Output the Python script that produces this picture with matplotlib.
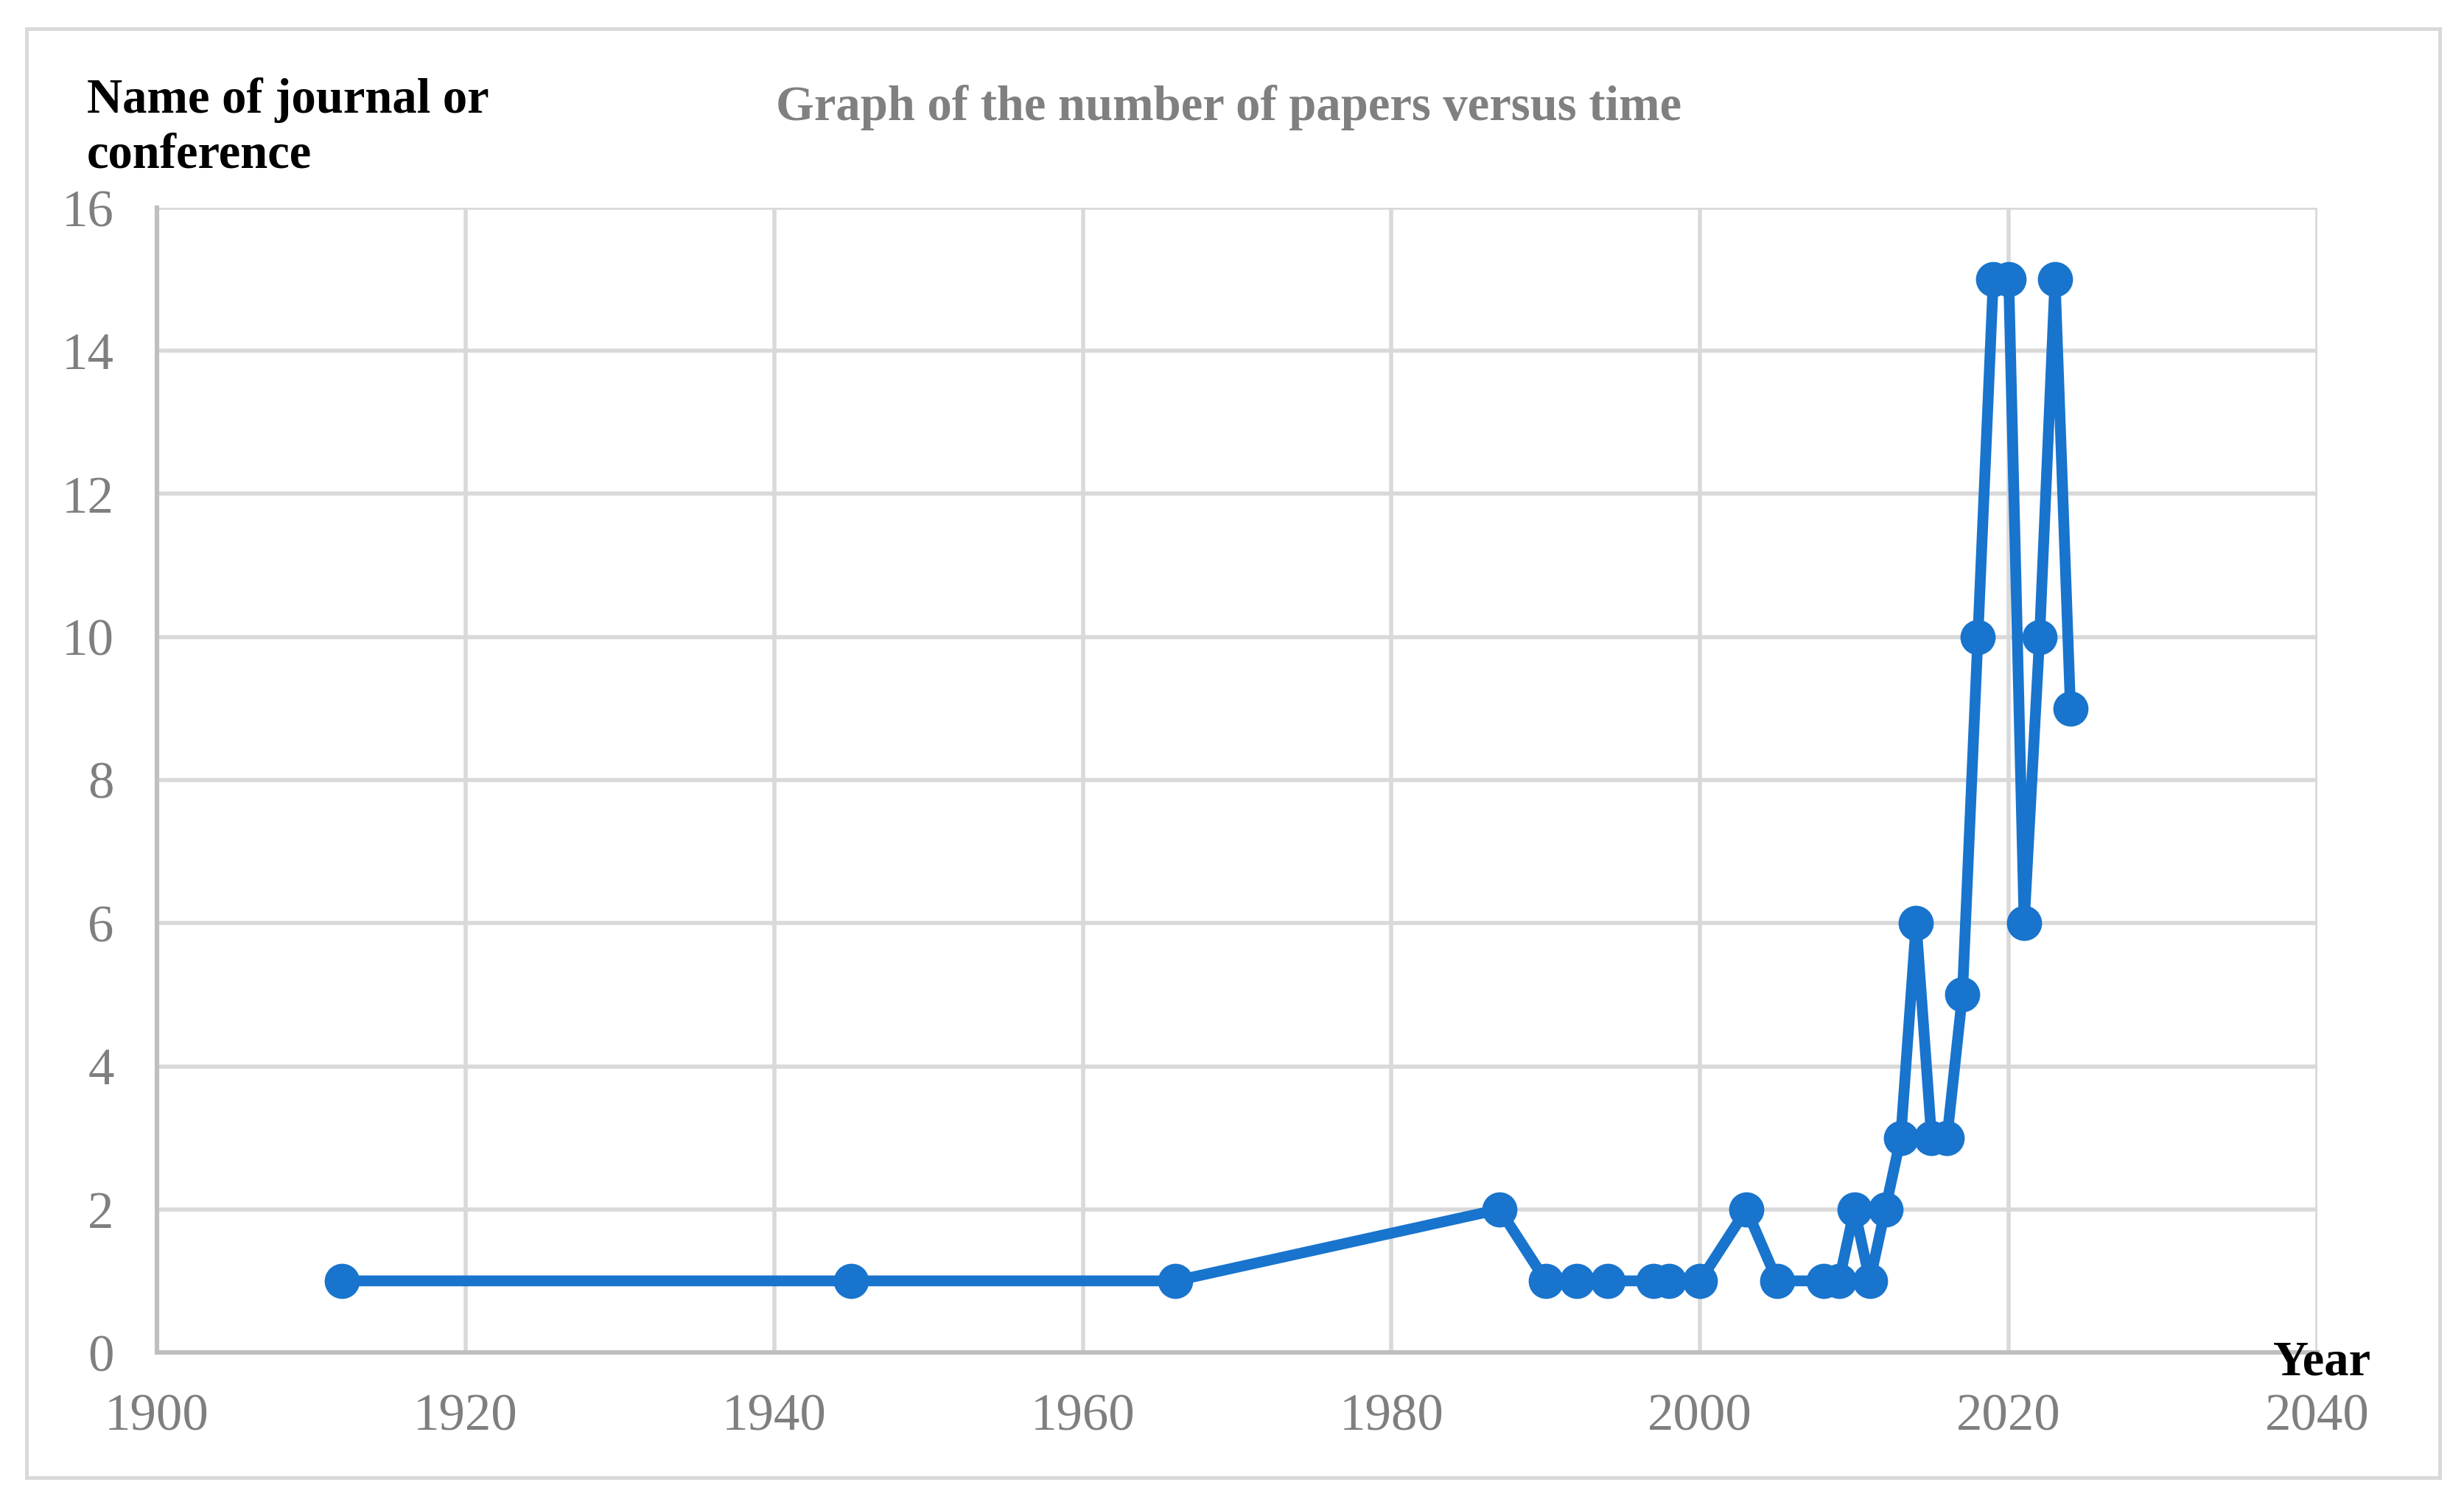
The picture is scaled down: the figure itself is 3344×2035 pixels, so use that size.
import matplotlib
matplotlib.use('Agg')
import matplotlib.pyplot as plt
from matplotlib.patches import Rectangle

# data
years = [1912, 1945, 1966, 1987, 1990, 1992, 1994, 1997, 1998, 2000,
         2003, 2005, 2008, 2009, 2010, 2011, 2012, 2013, 2014, 2015,
         2016, 2017, 2018, 2019, 2020, 2021, 2022, 2023, 2024]
papers = [1, 1, 1, 2, 1, 1, 1, 1, 1, 1,
          2, 1, 1, 1, 2, 1, 2, 3, 6, 3,
          3, 5, 10, 15, 15, 6, 10, 15, 9]
x_ticks = list(range(1900, 2041, 20))
y_ticks = list(range(0, 17, 2))

title = 'Graph of the number of papers versus time'
ylabel_lines = ['Name of journal or', 'conference']
xlabel = 'Year'

W, H = 3344, 2035
DPI = 200
plt.rcParams['font.family'] = ['Liberation Serif', 'DejaVu Serif']

fig = plt.figure(figsize=(W / DPI, H / DPI), dpi=DPI)

# outer chart border
fig.patches.append(Rectangle((36 / W, 1 - 2006 / H), (3311 - 36) / W, (2006 - 39) / H,
                             transform=fig.transFigure, fill=False,
                             edgecolor='#d9d9d9', linewidth=1.8))

ax = fig.add_axes([213 / W, 1 - 1836 / H, (3145 - 213) / W, (1836 - 282) / H])

ax.plot(years, papers, color='#1874CD', linewidth=5.3, marker='o',
        markersize=17.2, markeredgewidth=0, zorder=3, clip_on=False)

ax.set_xlim(1900, 2040)
ax.set_ylim(0, 16)
ax.set_xticks(x_ticks)
ax.set_yticks(y_ticks)
ax.grid(True, color='#d9d9d9', linewidth=2.0)
ax.set_axisbelow(True)

for s in ['top', 'right']:
    ax.spines[s].set_visible(False)
for s in ['left', 'bottom']:
    ax.spines[s].set_color('#bfbfbf')
    ax.spines[s].set_linewidth(2.2)

ax.tick_params(axis='x', length=0, pad=20, labelsize=25.5, labelcolor='#7f7f7f')
ax.tick_params(axis='y', length=0, pad=21, labelsize=25.5, labelcolor='#7f7f7f')

fig.text(1668 / W, 1 - 163 / H, title, ha='center', va='baseline',
         fontsize=24, fontweight='bold', color='#808080')
fig.text(118 / W, 1 - 153 / H, ylabel_lines[0], ha='left', va='baseline',
         fontsize=24, fontweight='bold', color='black')
fig.text(118 / W, 1 - 228 / H, ylabel_lines[1], ha='left', va='baseline',
         fontsize=24, fontweight='bold', color='black')
fig.text(3151 / W, 1 - 1866 / H, xlabel, ha='center', va='baseline',
         fontsize=24, fontweight='bold', color='black')

fig.savefig('out.png', dpi=DPI)
